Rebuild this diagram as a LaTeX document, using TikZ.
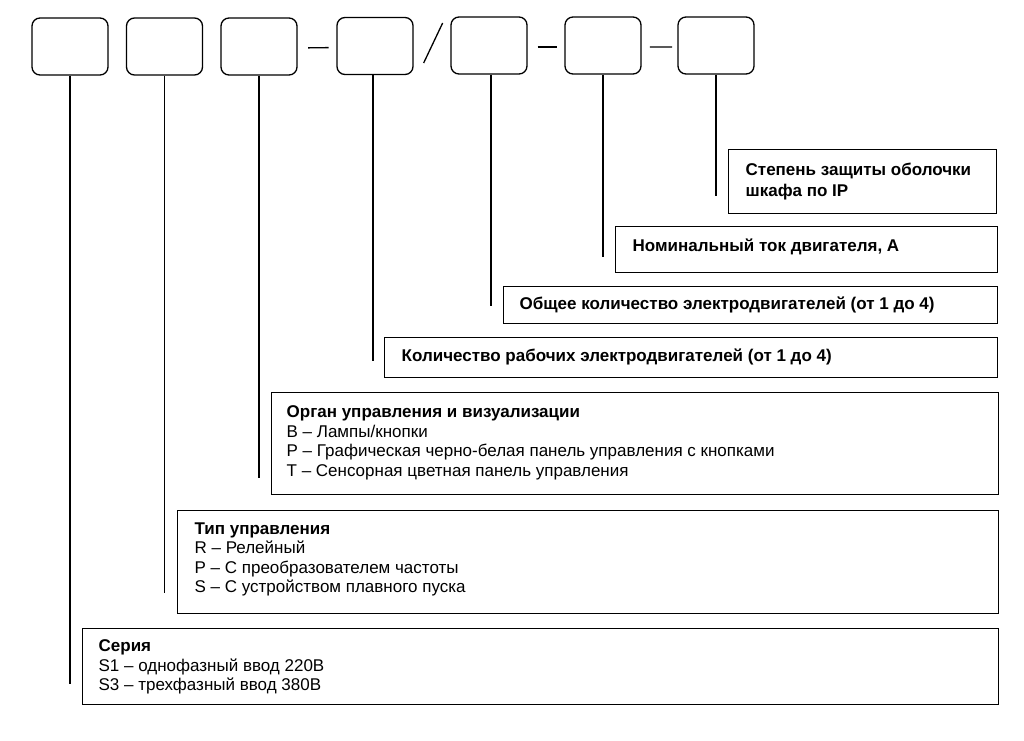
\documentclass[tikz,border=0pt]{standalone}
\usepackage{fontspec}
\setmainfont{Liberation Sans}
\usetikzlibrary{positioning,calc}

\begin{document}
\begin{tikzpicture}[x=1pt, y=-1pt, line width=1.3pt,
    codebox/.style={draw, rounded corners=8pt, minimum width=76pt, minimum height=57pt, inner sep=0pt},
    panel/.style={draw, anchor=north west, inner sep=0pt},
    desc/.style={anchor=north west, inner sep=0pt, align=left, font=\fontsize{17}{19.5}\selectfont}]
   \useasboundingbox (0,0) rectangle (1024,740);
   % code fields
   \begin{scope}[every node/.style=codebox]
    \node (b1) at (70,46.5) {};
    \node (b2) at (164.5,46.5) {};
    \node (b3) at (259,46.5) {};
    \node (b4) at (375,46) {};
    \node (b5) at (489,45.5) {};
    \node (b6) at (603,45.5) {};
    \node (b7) at (716,45.5) {};
   \end{scope}
   \draw ($(b3.east)!0.27!(b4.west)+(0,1.5)$) -- ($(b3.east)!0.8!(b4.west)+(0,1.5)$);
   \draw ($(b4.east)+(10,17)$) -- ($(b4.east)+(29,-23)$);
   \draw ($(b5.east)!0.27!(b6.west)+(0,1.5)$) -- ($(b5.east)!0.8!(b6.west)+(0,1.5)$);
   \draw ($(b6.east)!0.23!(b7.west)+(0,1.5)$) -- ($(b6.east)!0.85!(b7.west)+(0,1.5)$);
   % description panels
   \begin{scope}[every node/.style=panel]
    \node[minimum width=268pt, minimum height=64pt] (p7) at (728,149) {};
    \node[minimum width=382pt, minimum height=46pt] (p6) at (615,226) {};
    \node[minimum width=494pt, minimum height=37pt] (p5) at (503,286) {};
    \node[minimum width=613pt, minimum height=40pt] (p4) at (384,337) {};
    \node[minimum width=727pt, minimum height=102pt] (p3) at (271,392) {};
    \node[minimum width=821pt, minimum height=103pt] (p2) at (177,510) {};
    \node[minimum width=916pt, minimum height=76pt] (p1) at (82,628) {};
   \end{scope}
   \node[desc] (t7) at ($(p7.north west)+(17,13)$) {\textbf{Степень защиты оболочки}\\[1.5pt]\textbf{шкафа по IP}};
   \node[desc] (t6) at ($(p6.north west)+(17,12)$) {\textbf{Номинальный ток двигателя, А}};
   \node[desc] (t5) at ($(p5.north west)+(16,10)$) {\textbf{Общее количество электродвигателей (от 1 до 4)}};
   \node[desc] (t4) at ($(p4.north west)+(17,11)$) {\textbf{Количество рабочих электродвигателей (от 1 до 4)}};
   \node[desc] (t3) at ($(p3.north west)+(15,13)$) {\textbf{Орган управления и визуализации}\\
     B -- Лампы/кнопки\\P -- Графическая черно-белая панель управления с кнопками\\T -- Сенсорная цветная панель управления};
   \node[desc] (t2) at ($(p2.north west)+(17,12)$) {\textbf{Тип управления}\\
     R -- Релейный\\P -- С преобразователем частоты\\S -- С устройством плавного пуска};
   \node[desc] (t1) at ($(p1.north west)+(16,11)$) {\textbf{Серия}\\
     S1 -- однофазный ввод 220В\\S3 -- трехфазный ввод 380В};
   % leaders
   \draw (b1.south) -- ($(b1.south |- p1.south)+(0,-21)$);
   \draw (b2.south) -- ($(b2.south |- p2.south)+(0,-21)$);
   \draw (b3.south) -- ($(b3.south |- p3.south)+(0,-17)$);
   \draw ([xshift=-2pt]b4.south) -- ($([xshift=-2pt]b4.south |- p4.south)+(0,-17)$);
   \draw ([xshift=2pt]b5.south) -- ($([xshift=2pt]b5.south |- p5.south)+(0,-18)$);
   \draw (b6.south) -- ($(b6.south |- p6.south)+(0,-16)$);
   \draw (b7.south) -- ($(b7.south |- p7.south)+(0,-18)$);
\end{tikzpicture}
\end{document}
